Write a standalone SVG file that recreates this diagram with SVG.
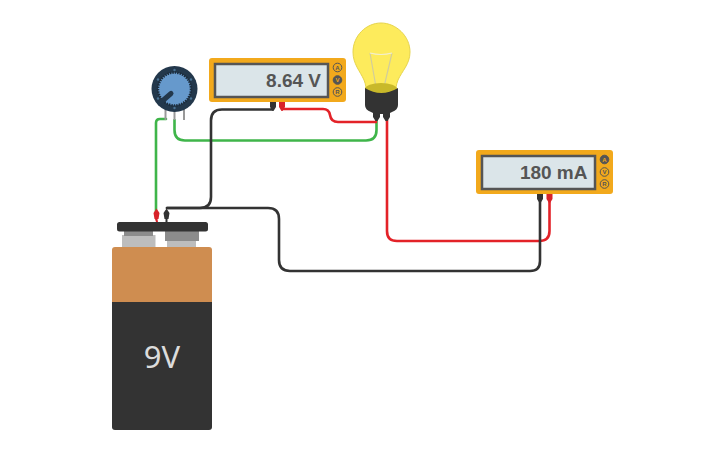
<svg xmlns="http://www.w3.org/2000/svg" width="725" height="453" viewBox="0 0 725 453">
<style>
.w{fill:none;stroke-width:2.6;stroke-linecap:round}
.g{stroke:#3fb54a}.r{stroke:#e32228}.k{stroke:#333}
.case{fill:#f2a91c}
.scr{fill:#dbe5e9;stroke:#555;stroke-width:2.5}
.val{font-family:"Liberation Sans",Arial,sans-serif;font-weight:700;font-size:19px;fill:#555;text-anchor:end}
.btn{fill:none;stroke:#555;stroke-width:1}
.bon{fill:#555;stroke:#555;stroke-width:1}
.bl{font-family:"Liberation Sans",Arial,sans-serif;font-size:6px;font-weight:700;fill:#555;text-anchor:middle}
.blo{font-family:"Liberation Sans",Arial,sans-serif;font-size:6px;font-weight:700;fill:#f2a91c;text-anchor:middle}
.pr{fill:#d8232a}.pk{fill:#333}
</style>
<g id="connectors">
<path class="w g" d="M166 119H160Q156 119 156 123V212"/>
<path class="w g" d="M174.500 120V130Q174.500 140.500 185 140.500H366Q376.500 140.500 376.500 130V120"/>
<path class="w r" d="M282 109H323Q329 109 330 115Q331 122 338 122H376"/>
<path class="w r" d="M387 120V231Q387 241 397 241H539Q549.500 241 549.500 231V199"/>
<path class="w k" d="M272 109.500H222Q211 109.500 211 120.500V197Q211 208 200 208H167"/>
<path class="w k" d="M167 208H268Q279 208 279 219V260Q279 271 290 271H530Q540 271 540 261V199"/>
</g>
<g id="battery">
<rect x="122" y="235" width="33.500" height="13" fill="#bdbdbd"/>
<rect x="124" y="231" width="29" height="5" fill="#8c8c8c"/>
<rect x="167" y="240" width="29" height="8" fill="#bdbdbd"/>
<rect x="165" y="231" width="34" height="10" fill="#8c8c8c"/>
<rect x="117" y="222" width="91" height="9.500" rx="2.500" fill="#333"/>
<path d="M112 302V250Q112 247 115 247H209Q212 247 212 250V302Z" fill="#cf8d50"/>
<path d="M112 302H212V427Q212 430 209 430H115Q112 430 112 427Z" fill="#333"/>
<text x="162" y="368" font-family="'Noto Sans',sans-serif" font-size="31" fill="#dcdcdc" text-anchor="middle">9V</text>
<path class="pr" d="M156.500 208.500L159.500 213L158.500 219H157.500L158 222H156L155 219H154.500L153.500 213Z"/>
<path class="pk" d="M166.500 208.500L169.500 213L168.500 219H167.500V222H165.500V219H164.500L163.500 213Z"/>
</g>
<g id="potentiometer">
<rect x="164.500" y="108" width="2" height="12" fill="#999"/>
<rect x="173.500" y="108" width="2" height="12" fill="#999"/>
<rect x="183" y="108" width="2" height="12" fill="#999"/>
<circle cx="174.500" cy="89" r="23" fill="#23384c"/>
<circle cx="174.500" cy="89" r="16.500" fill="#6699cc" stroke="#1c2c3c" stroke-width="2.500" stroke-dasharray="1.500 1"/>
<g fill="#4a7294"><circle cx="174.500" cy="70" r="1.200"/><circle cx="191" cy="79.500" r="1.200"/><circle cx="191" cy="98.500" r="1.200"/><circle cx="174.500" cy="108" r="1.200"/><circle cx="158" cy="98.500" r="1.200"/><circle cx="158" cy="79.500" r="1.200"/></g>
<path d="M171 93.500L160 103" stroke="#23384c" stroke-width="5" stroke-linecap="round" fill="none"/>
</g>
<g id="voltmeter">
<rect class="case" x="209" y="58" width="137" height="44" rx="3"/>
<rect class="scr" x="215" y="64" width="113" height="33"/>
<text class="val" x="321" y="87">8.64 V</text>
<circle class="btn" cx="337.500" cy="67.500" r="4.300"/><text class="bl" x="337.500" y="69.700">A</text>
<circle class="bon" cx="337.500" cy="80" r="4.300"/><text class="blo" x="337.500" y="82.200">V</text>
<circle class="btn" cx="337.500" cy="92" r="4.300"/><text class="bl" x="337.500" y="94.200">R</text>
<path class="pk" d="M270 102H276V107L273.500 111H272.500L270 107Z"/>
<path class="pr" d="M279 102H285V107L282.500 111H281.500L279 107Z"/>
</g>
<g id="bulb">
<path d="M381 23C396 23 410 36 410 52C410 64 402 71 398 80C396 85 396 88 396 91H366C366 88 366 85 364 80C360 71 353 64 353 52C353 36 366 23 381 23Z" fill="#fdeb5c" stroke="#e6d44c" stroke-width="1"/>
<path d="M370 53L376 87M392 53L384 87" stroke="#d2cd9a" stroke-width="1.200" fill="none"/>
<path d="M370 53Q381 56 392 53" stroke="#f2efd0" stroke-width="1.200" fill="none"/>
<ellipse cx="381" cy="89" rx="16" ry="6" fill="#c9b92a"/>
<path d="M365 88Q381 98 398 88V105Q398 110 392 112L388 114H375L371 112Q365 110 365 105Z" fill="#333"/>
<path class="pk" d="M373 112H380V117L377.500 121H375.500L373 117Z"/>
<path class="pk" d="M383 112H390V117L387.500 121H385.500L383 117Z"/>
</g>
<g id="ammeter">
<rect class="case" x="476" y="150" width="137" height="44" rx="3"/>
<rect class="scr" x="482" y="156" width="113" height="33"/>
<text class="val" x="587.500" y="179">180 mA</text>
<circle class="bon" cx="604.500" cy="159.500" r="4.300"/><text class="blo" x="604.500" y="161.700">A</text>
<circle class="btn" cx="604.500" cy="172" r="4.300"/><text class="bl" x="604.500" y="174.200">V</text>
<circle class="btn" cx="604.500" cy="184" r="4.300"/><text class="bl" x="604.500" y="186.200">R</text>
<path class="pk" d="M537 194H543V199L540.500 203H539.500L537 199Z"/>
<path class="pr" d="M546.500 194H552.500V199L550 203H549L546.500 199Z"/>
</g>
</svg>
